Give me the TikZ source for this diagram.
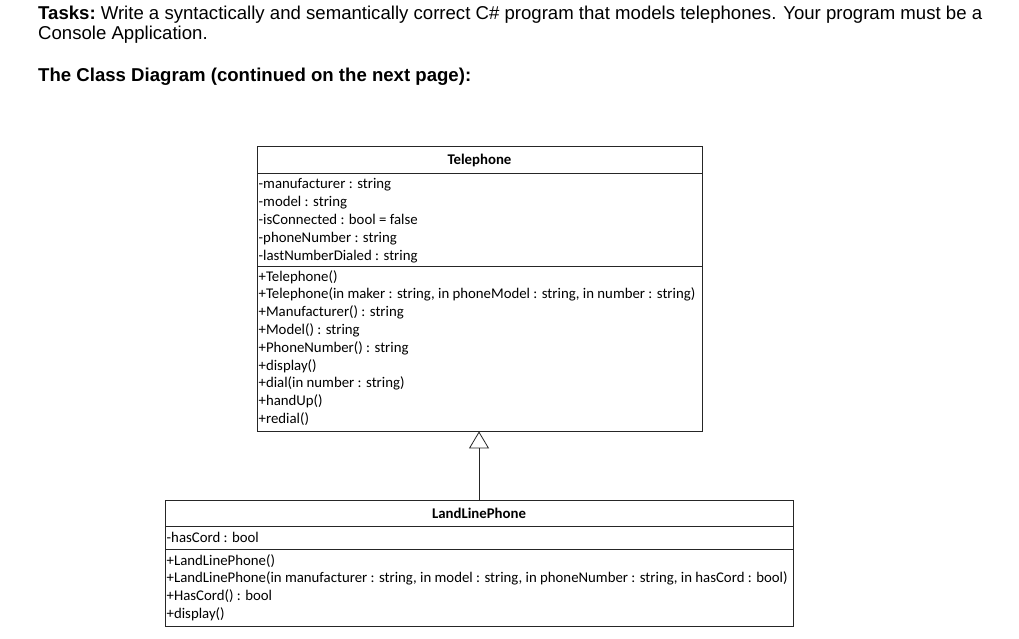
\documentclass[tikz,border=0pt]{standalone}
\usepackage{fontspec}
\setmainfont{Liberation Sans}
\newfontfamily\umlfont{Carlito}
\usetikzlibrary{arrows.meta}
\begin{document}
\begin{tikzpicture}[x=1pt,y=-1pt,
  boxline/.style={draw=black!85, line width=0.8pt},
  classbox/.style={boxline, rectangle, inner sep=0pt},
  umltxt/.style={anchor=base west, inner sep=0pt, font=\umlfont\fontsize{14.8}{17}\selectfont},
  umltitle/.style={anchor=base, inner sep=0pt, font=\umlfont\bfseries\fontsize{14.8}{17}\selectfont},
  headtxt/.style={anchor=base west, inner sep=0pt, font=\fontsize{18.6}{22}\selectfont, align=left}
]
\useasboundingbox (0,0) rectangle (1019,639);
\fill[white] (0,0) rectangle (1019,639);

% header text
\node[headtxt] (h1) at (38,19.5) {\textbf{Tasks:}\hspace{-0.1em} Write a syntactically and semantically correct C\# program that models telephones. Your program must be a};
\node[headtxt] (h2) at (38,40) {Console Application.};
\node[headtxt] (h3) at (38,82) {\textbf{The Class Diagram (continued on the next page):}};

% Telephone class
\node[classbox, minimum width=445pt, minimum height=285pt] (tel) at (479.5,288.5) {};
\draw[boxline] (257,173) -- (702,173);
\draw[boxline] (257,266) -- (702,266);
\node[umltitle] (tt) at (479.5,165) {Telephone};
\foreach \t [count=\i from 0] in {-manufacturer : string,-model : string,-isConnected : bool = false,-phoneNumber : string,-lastNumberDialed : string}
  \node[umltxt] (ta\i) at (258.5,{189+17.8*\i}) {\t};
\foreach \t [count=\i from 0] in {+Telephone(),{+Telephone(in maker : string, in phoneModel : string, in number : string)},+Manufacturer() : string,+Model() : string,+PhoneNumber() : string,+display(),+dial(in number : string),+handUp(),+redial()}
  \node[umltxt] (tm\i) at (258.5,{281+17.8*\i}) {\t};

% LandLinePhone class
\node[classbox, minimum width=628pt, minimum height=126pt] (llp) at (479,563) {};
\draw[boxline] (165,526) -- (793,526);
\draw[boxline] (165,549) -- (793,549);
\node[umltitle] (lt) at (479,518) {LandLinePhone};
\node[umltxt] (la0) at (166.5,542) {-hasCord : bool};
\foreach \t [count=\i from 0] in {+LandLinePhone(),{+LandLinePhone(in manufacturer : string, in model : string, in phoneNumber : string, in hasCord : bool)},+HasCord() : bool,+display()}
  \node[umltxt] (lm\i) at (166.5,{565+17.8*\i}) {\t};

% generalization
\draw[boxline, -{Triangle[open, length=17pt, width=20pt]}] (llp.north) -- (llp.north |- tel.south);
\end{tikzpicture}
\end{document}
